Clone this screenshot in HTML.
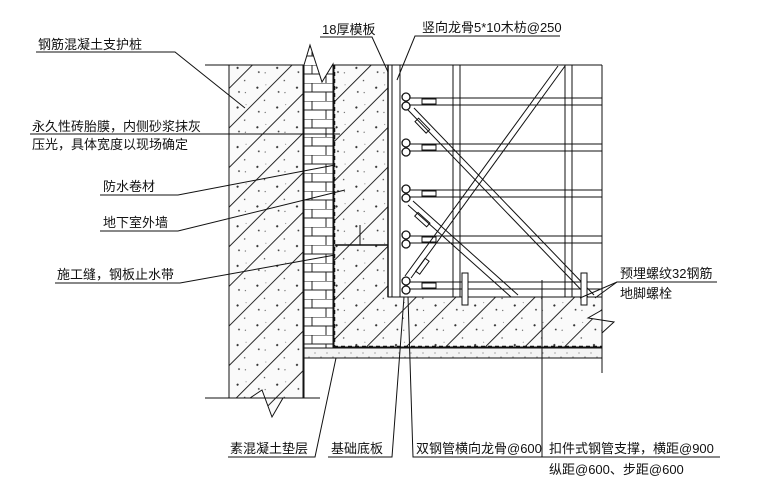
<!DOCTYPE html>
<html><head><meta charset="utf-8"><style>
html,body{margin:0;padding:0;background:#fff}
svg{display:block}
text{font-family:"Liberation Sans","Noto Sans CJK SC",sans-serif;font-size:13px;fill:#111}
</style></head><body>
<svg width="760" height="498" viewBox="0 0 760 498" xmlns="http://www.w3.org/2000/svg">
<defs>
<pattern id="hatch" patternUnits="userSpaceOnUse" width="28" height="28" patternTransform="rotate(45)">
<rect width="28" height="28" fill="#fafafa"/>
<line x1="0" y1="0" x2="0" y2="28" stroke="#111" stroke-width="1.8"/>
<circle cx="10" cy="8" r="0.9" fill="#333"/><circle cx="20" cy="20" r="1.1" fill="#333"/>
<circle cx="15" cy="4" r="0.6" fill="#555"/><circle cx="6" cy="24" r="0.7" fill="#444"/>
<circle cx="24" cy="12" r="0.5" fill="#666"/>
</pattern>
<pattern id="brick" patternUnits="userSpaceOnUse" x="304" y="65" width="30" height="18">
<rect width="30" height="18" fill="#fff"/>
<line x1="0" y1="0" x2="30" y2="0" stroke="#222" stroke-width="1"/>
<line x1="0" y1="9" x2="30" y2="9" stroke="#222" stroke-width="1"/>
<line x1="8" y1="0" x2="8" y2="9" stroke="#222" stroke-width="1"/>
<line x1="22" y1="9" x2="22" y2="18" stroke="#222" stroke-width="1"/>
</pattern>
<pattern id="dots" patternUnits="userSpaceOnUse" width="12" height="10">
<rect width="12" height="10" fill="#f4f4f4"/>
<circle cx="3" cy="3" r="0.6" fill="#777"/><circle cx="9" cy="7" r="0.6" fill="#777"/>
</pattern>
</defs>
<g stroke="#111" stroke-width="1" fill="none">
<line x1="205" y1="65" x2="300" y2="65"/>
<line x1="333" y1="65" x2="602" y2="65"/>
<path d="M229,65 L303,65 L303,398 L283,398 L272,417 L262,390 L250,398 L229,398 Z" fill="url(#hatch)"/>
<line x1="205" y1="398" x2="320" y2="398"/>
<line x1="304" y1="348" x2="304" y2="398"/>
<path d="M304,65 L310,45 L322,82 L333,64 L333,348 L304,348 Z" fill="url(#brick)"/>
<path d="M334,65 L388,65 L388,297 L590,297 L602,297 L602,310 L588,318 L614,322 L602,333 L602,347 L334,347 Z" fill="url(#hatch)"/>
<line x1="334" y1="65" x2="334" y2="347" stroke-dasharray="4,3" stroke-width="2.5"/>
<line x1="334" y1="347" x2="602" y2="347" stroke-dasharray="4,3" stroke-width="2.5"/>
<rect x="304" y="348" width="298" height="10" fill="url(#dots)"/>
<line x1="602" y1="65" x2="602" y2="373"/>
<line x1="388" y1="65" x2="388" y2="297" stroke-width="1.5"/>
<line x1="392" y1="65" x2="392" y2="297"/>
<line x1="400" y1="65" x2="400" y2="297"/>
<line x1="335" y1="245" x2="388" y2="245" stroke-width="1.5"/>
<line x1="360" y1="225" x2="360" y2="245"/>
<line x1="453" y1="65" x2="453" y2="297"/><line x1="460" y1="65" x2="460" y2="297"/>
<line x1="565" y1="65" x2="565" y2="297"/><line x1="572" y1="65" x2="572" y2="297"/>
<g>
<line x1="410" y1="98" x2="602" y2="98"/><line x1="410" y1="105" x2="602" y2="105"/>
<line x1="410" y1="144" x2="602" y2="144"/><line x1="410" y1="151" x2="602" y2="151"/>
<line x1="410" y1="190" x2="602" y2="190"/><line x1="410" y1="197" x2="602" y2="197"/>
<line x1="410" y1="236" x2="602" y2="236"/><line x1="410" y1="243" x2="602" y2="243"/>
<line x1="410" y1="282" x2="602" y2="282"/><line x1="410" y1="289" x2="602" y2="289"/>
<rect x="422" y="99" width="14" height="5"/><rect x="422" y="145" width="14" height="5"/>
<rect x="422" y="191" width="14" height="5"/><rect x="422" y="237" width="14" height="5"/>
<rect x="422" y="283" width="14" height="5"/>
</g>
<g stroke-width="1.3">
<circle cx="406" cy="97" r="4"/><circle cx="406" cy="106" r="4"/>
<circle cx="406" cy="143" r="4"/><circle cx="406" cy="152" r="4"/>
<circle cx="406" cy="189" r="4"/><circle cx="406" cy="198" r="4"/>
<circle cx="406" cy="235" r="4"/><circle cx="406" cy="244" r="4"/>
<circle cx="406" cy="281" r="4"/><circle cx="406" cy="290" r="4"/>
</g>
<line x1="408" y1="110" x2="588" y2="297"/><line x1="414" y1="108" x2="594" y2="295"/>
<line x1="408" y1="205" x2="511" y2="297"/><line x1="413" y1="201" x2="518" y2="295"/>
<line x1="558" y1="66" x2="405" y2="276"/><line x1="565" y1="66" x2="411" y2="278"/>
<rect x="420" y="118" width="5" height="16" transform="rotate(-44 422 126)"/>
<rect x="420" y="212" width="5" height="16" transform="rotate(-48 422 220)"/>
<rect x="420" y="258" width="5" height="16" transform="rotate(36 422 266)"/>
<rect x="462" y="273" width="6" height="32" fill="#fff"/>
<rect x="581" y="273" width="6" height="32" fill="#fff"/>
<polyline points="36,52 175,52 245,108"/>
<polyline points="30,134 340,134"/>
<polyline points="100,195 178,195 335,165"/>
<polyline points="100,231 178,231 345,190"/>
<polyline points="55,283 180,283 335,255"/>
<polyline points="320,37 372,37 388,72"/>
<polyline points="560,36 415,36 397,80"/>
<polyline points="717,282 617,282 580,298"/><line x1="617" y1="282" x2="595" y2="298"/>
<polyline points="228,457 315,457 336,358"/>
<polyline points="328,457 392,457 404,297"/>
<polyline points="605,457 413,457 408,297"/>
<polyline points="720,457 542,457 542,280"/>
</g>
<text x="38" y="49">钢筋混凝土支护桩</text>
<text x="32" y="131">永久性砖胎膜，内侧砂浆抹灰</text>
<text x="32" y="149">压光，具体宽度以现场确定</text>
<text x="103" y="191">防水卷材</text>
<text x="103" y="227">地下室外墙</text>
<text x="57" y="279">施工缝，钢板止水带</text>
<text x="322" y="34">18厚模板</text>
<text x="422" y="32">竖向龙骨5*10木枋@250</text>
<text x="620" y="278">预埋螺纹32钢筋</text>
<text x="620" y="298">地脚螺栓</text>
<text x="230" y="453">素混凝土垫层</text>
<text x="331" y="453">基础底板</text>
<text x="416" y="453">双钢管横向龙骨@600</text>
<text x="549" y="453">扣件式钢管支撑，横距@900</text>
<text x="549" y="474">纵距@600、步距@600</text>
</svg>
</body></html>
